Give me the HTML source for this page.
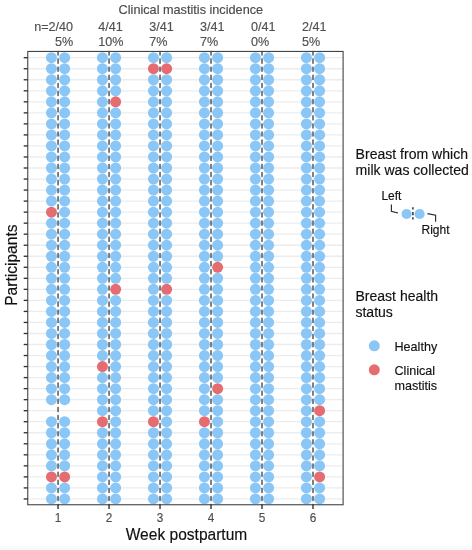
<!DOCTYPE html>
<html><head><meta charset="utf-8"><title>Clinical mastitis incidence</title><style>
html,body{margin:0;padding:0;background:#fff;}
body{width:472px;height:550px;overflow:hidden;}
svg{display:block;font-family:"Liberation Sans",Arial,Helvetica,sans-serif;}
text{stroke-linejoin:round;}
.tick{font-size:11.8px;fill:#4D4D4D;stroke:#4D4D4D;stroke-width:0.15px;}
.axt{font-size:15.55px;fill:#111;stroke:#111;stroke-width:0.15px;}
.ttl{font-size:12.7px;fill:#4a4a4a;stroke:#4a4a4a;stroke-width:0.15px;}
.top{font-size:12.6px;fill:#505050;stroke:#505050;stroke-width:0.15px;}
.lt{font-size:14.05px;fill:#111;stroke:#111;stroke-width:0.15px;}
.lr{font-size:12px;fill:#111;stroke:#111;stroke-width:0.15px;}
.ll{font-size:12.6px;fill:#111;stroke:#111;stroke-width:0.15px;}
</style></head><body>
<svg width="472" height="550" viewBox="0 0 472 550">
<rect x="0" y="546" width="472" height="4" fill="#FAFAFA"/>
<line x1="27.75" y1="57.70" x2="343.1" y2="57.70" stroke="#ECECEC" stroke-width="1.3"/>
<line x1="27.75" y1="68.73" x2="343.1" y2="68.73" stroke="#ECECEC" stroke-width="1.3"/>
<line x1="27.75" y1="79.76" x2="343.1" y2="79.76" stroke="#ECECEC" stroke-width="1.3"/>
<line x1="27.75" y1="90.79" x2="343.1" y2="90.79" stroke="#ECECEC" stroke-width="1.3"/>
<line x1="27.75" y1="101.82" x2="343.1" y2="101.82" stroke="#ECECEC" stroke-width="1.3"/>
<line x1="27.75" y1="112.86" x2="343.1" y2="112.86" stroke="#ECECEC" stroke-width="1.3"/>
<line x1="27.75" y1="123.89" x2="343.1" y2="123.89" stroke="#ECECEC" stroke-width="1.3"/>
<line x1="27.75" y1="134.92" x2="343.1" y2="134.92" stroke="#ECECEC" stroke-width="1.3"/>
<line x1="27.75" y1="145.95" x2="343.1" y2="145.95" stroke="#ECECEC" stroke-width="1.3"/>
<line x1="27.75" y1="156.98" x2="343.1" y2="156.98" stroke="#ECECEC" stroke-width="1.3"/>
<line x1="27.75" y1="168.01" x2="343.1" y2="168.01" stroke="#ECECEC" stroke-width="1.3"/>
<line x1="27.75" y1="179.04" x2="343.1" y2="179.04" stroke="#ECECEC" stroke-width="1.3"/>
<line x1="27.75" y1="190.07" x2="343.1" y2="190.07" stroke="#ECECEC" stroke-width="1.3"/>
<line x1="27.75" y1="201.10" x2="343.1" y2="201.10" stroke="#ECECEC" stroke-width="1.3"/>
<line x1="27.75" y1="212.13" x2="343.1" y2="212.13" stroke="#ECECEC" stroke-width="1.3"/>
<line x1="27.75" y1="223.17" x2="343.1" y2="223.17" stroke="#ECECEC" stroke-width="1.3"/>
<line x1="27.75" y1="234.20" x2="343.1" y2="234.20" stroke="#ECECEC" stroke-width="1.3"/>
<line x1="27.75" y1="245.23" x2="343.1" y2="245.23" stroke="#ECECEC" stroke-width="1.3"/>
<line x1="27.75" y1="256.26" x2="343.1" y2="256.26" stroke="#ECECEC" stroke-width="1.3"/>
<line x1="27.75" y1="267.29" x2="343.1" y2="267.29" stroke="#ECECEC" stroke-width="1.3"/>
<line x1="27.75" y1="278.32" x2="343.1" y2="278.32" stroke="#ECECEC" stroke-width="1.3"/>
<line x1="27.75" y1="289.35" x2="343.1" y2="289.35" stroke="#ECECEC" stroke-width="1.3"/>
<line x1="27.75" y1="300.38" x2="343.1" y2="300.38" stroke="#ECECEC" stroke-width="1.3"/>
<line x1="27.75" y1="311.41" x2="343.1" y2="311.41" stroke="#ECECEC" stroke-width="1.3"/>
<line x1="27.75" y1="322.44" x2="343.1" y2="322.44" stroke="#ECECEC" stroke-width="1.3"/>
<line x1="27.75" y1="333.48" x2="343.1" y2="333.48" stroke="#ECECEC" stroke-width="1.3"/>
<line x1="27.75" y1="344.51" x2="343.1" y2="344.51" stroke="#ECECEC" stroke-width="1.3"/>
<line x1="27.75" y1="355.54" x2="343.1" y2="355.54" stroke="#ECECEC" stroke-width="1.3"/>
<line x1="27.75" y1="366.57" x2="343.1" y2="366.57" stroke="#ECECEC" stroke-width="1.3"/>
<line x1="27.75" y1="377.60" x2="343.1" y2="377.60" stroke="#ECECEC" stroke-width="1.3"/>
<line x1="27.75" y1="388.63" x2="343.1" y2="388.63" stroke="#ECECEC" stroke-width="1.3"/>
<line x1="27.75" y1="399.66" x2="343.1" y2="399.66" stroke="#ECECEC" stroke-width="1.3"/>
<line x1="27.75" y1="410.69" x2="343.1" y2="410.69" stroke="#ECECEC" stroke-width="1.3"/>
<line x1="27.75" y1="421.72" x2="343.1" y2="421.72" stroke="#ECECEC" stroke-width="1.3"/>
<line x1="27.75" y1="432.75" x2="343.1" y2="432.75" stroke="#ECECEC" stroke-width="1.3"/>
<line x1="27.75" y1="443.79" x2="343.1" y2="443.79" stroke="#ECECEC" stroke-width="1.3"/>
<line x1="27.75" y1="454.82" x2="343.1" y2="454.82" stroke="#ECECEC" stroke-width="1.3"/>
<line x1="27.75" y1="465.85" x2="343.1" y2="465.85" stroke="#ECECEC" stroke-width="1.3"/>
<line x1="27.75" y1="476.88" x2="343.1" y2="476.88" stroke="#ECECEC" stroke-width="1.3"/>
<line x1="27.75" y1="487.91" x2="343.1" y2="487.91" stroke="#ECECEC" stroke-width="1.3"/>
<line x1="27.75" y1="498.94" x2="343.1" y2="498.94" stroke="#ECECEC" stroke-width="1.3"/>
<line x1="58.05" y1="51.45" x2="58.05" y2="504.75" stroke="#444" stroke-width="1.35" stroke-linecap="round" stroke-dasharray="4.2 3.9" stroke-dashoffset="0.55"/>
<line x1="109.04" y1="51.45" x2="109.04" y2="504.75" stroke="#444" stroke-width="1.35" stroke-linecap="round" stroke-dasharray="4.2 3.9" stroke-dashoffset="0.55"/>
<line x1="160.03" y1="51.45" x2="160.03" y2="504.75" stroke="#444" stroke-width="1.35" stroke-linecap="round" stroke-dasharray="4.2 3.9" stroke-dashoffset="0.55"/>
<line x1="211.02" y1="51.45" x2="211.02" y2="504.75" stroke="#444" stroke-width="1.35" stroke-linecap="round" stroke-dasharray="4.2 3.9" stroke-dashoffset="0.55"/>
<line x1="262.01" y1="51.45" x2="262.01" y2="504.75" stroke="#444" stroke-width="1.35" stroke-linecap="round" stroke-dasharray="4.2 3.9" stroke-dashoffset="0.55"/>
<line x1="313.00" y1="51.45" x2="313.00" y2="504.75" stroke="#444" stroke-width="1.35" stroke-linecap="round" stroke-dasharray="4.2 3.9" stroke-dashoffset="0.55"/>
<circle cx="51.45" cy="57.70" r="5.5" fill="#8AC6F6"/>
<circle cx="64.65" cy="57.70" r="5.5" fill="#8AC6F6"/>
<circle cx="51.45" cy="68.73" r="5.5" fill="#8AC6F6"/>
<circle cx="64.65" cy="68.73" r="5.5" fill="#8AC6F6"/>
<circle cx="51.45" cy="79.76" r="5.5" fill="#8AC6F6"/>
<circle cx="64.65" cy="79.76" r="5.5" fill="#8AC6F6"/>
<circle cx="51.45" cy="90.79" r="5.5" fill="#8AC6F6"/>
<circle cx="64.65" cy="90.79" r="5.5" fill="#8AC6F6"/>
<circle cx="51.45" cy="101.82" r="5.5" fill="#8AC6F6"/>
<circle cx="64.65" cy="101.82" r="5.5" fill="#8AC6F6"/>
<circle cx="51.45" cy="112.86" r="5.5" fill="#8AC6F6"/>
<circle cx="64.65" cy="112.86" r="5.5" fill="#8AC6F6"/>
<circle cx="51.45" cy="123.89" r="5.5" fill="#8AC6F6"/>
<circle cx="64.65" cy="123.89" r="5.5" fill="#8AC6F6"/>
<circle cx="51.45" cy="134.92" r="5.5" fill="#8AC6F6"/>
<circle cx="64.65" cy="134.92" r="5.5" fill="#8AC6F6"/>
<circle cx="51.45" cy="145.95" r="5.5" fill="#8AC6F6"/>
<circle cx="64.65" cy="145.95" r="5.5" fill="#8AC6F6"/>
<circle cx="51.45" cy="156.98" r="5.5" fill="#8AC6F6"/>
<circle cx="64.65" cy="156.98" r="5.5" fill="#8AC6F6"/>
<circle cx="51.45" cy="168.01" r="5.5" fill="#8AC6F6"/>
<circle cx="64.65" cy="168.01" r="5.5" fill="#8AC6F6"/>
<circle cx="51.45" cy="179.04" r="5.5" fill="#8AC6F6"/>
<circle cx="64.65" cy="179.04" r="5.5" fill="#8AC6F6"/>
<circle cx="51.45" cy="190.07" r="5.5" fill="#8AC6F6"/>
<circle cx="64.65" cy="190.07" r="5.5" fill="#8AC6F6"/>
<circle cx="51.45" cy="201.10" r="5.5" fill="#8AC6F6"/>
<circle cx="64.65" cy="201.10" r="5.5" fill="#8AC6F6"/>
<circle cx="64.65" cy="212.13" r="5.5" fill="#8AC6F6"/>
<circle cx="51.45" cy="223.17" r="5.5" fill="#8AC6F6"/>
<circle cx="64.65" cy="223.17" r="5.5" fill="#8AC6F6"/>
<circle cx="51.45" cy="234.20" r="5.5" fill="#8AC6F6"/>
<circle cx="64.65" cy="234.20" r="5.5" fill="#8AC6F6"/>
<circle cx="51.45" cy="245.23" r="5.5" fill="#8AC6F6"/>
<circle cx="64.65" cy="245.23" r="5.5" fill="#8AC6F6"/>
<circle cx="51.45" cy="256.26" r="5.5" fill="#8AC6F6"/>
<circle cx="64.65" cy="256.26" r="5.5" fill="#8AC6F6"/>
<circle cx="51.45" cy="267.29" r="5.5" fill="#8AC6F6"/>
<circle cx="64.65" cy="267.29" r="5.5" fill="#8AC6F6"/>
<circle cx="51.45" cy="278.32" r="5.5" fill="#8AC6F6"/>
<circle cx="64.65" cy="278.32" r="5.5" fill="#8AC6F6"/>
<circle cx="51.45" cy="289.35" r="5.5" fill="#8AC6F6"/>
<circle cx="64.65" cy="289.35" r="5.5" fill="#8AC6F6"/>
<circle cx="51.45" cy="300.38" r="5.5" fill="#8AC6F6"/>
<circle cx="64.65" cy="300.38" r="5.5" fill="#8AC6F6"/>
<circle cx="51.45" cy="311.41" r="5.5" fill="#8AC6F6"/>
<circle cx="64.65" cy="311.41" r="5.5" fill="#8AC6F6"/>
<circle cx="51.45" cy="322.44" r="5.5" fill="#8AC6F6"/>
<circle cx="64.65" cy="322.44" r="5.5" fill="#8AC6F6"/>
<circle cx="51.45" cy="333.48" r="5.5" fill="#8AC6F6"/>
<circle cx="64.65" cy="333.48" r="5.5" fill="#8AC6F6"/>
<circle cx="51.45" cy="344.51" r="5.5" fill="#8AC6F6"/>
<circle cx="64.65" cy="344.51" r="5.5" fill="#8AC6F6"/>
<circle cx="51.45" cy="355.54" r="5.5" fill="#8AC6F6"/>
<circle cx="64.65" cy="355.54" r="5.5" fill="#8AC6F6"/>
<circle cx="51.45" cy="366.57" r="5.5" fill="#8AC6F6"/>
<circle cx="64.65" cy="366.57" r="5.5" fill="#8AC6F6"/>
<circle cx="51.45" cy="377.60" r="5.5" fill="#8AC6F6"/>
<circle cx="64.65" cy="377.60" r="5.5" fill="#8AC6F6"/>
<circle cx="51.45" cy="388.63" r="5.5" fill="#8AC6F6"/>
<circle cx="64.65" cy="388.63" r="5.5" fill="#8AC6F6"/>
<circle cx="51.45" cy="399.66" r="5.5" fill="#8AC6F6"/>
<circle cx="64.65" cy="399.66" r="5.5" fill="#8AC6F6"/>
<circle cx="51.45" cy="421.72" r="5.5" fill="#8AC6F6"/>
<circle cx="64.65" cy="421.72" r="5.5" fill="#8AC6F6"/>
<circle cx="51.45" cy="432.75" r="5.5" fill="#8AC6F6"/>
<circle cx="64.65" cy="432.75" r="5.5" fill="#8AC6F6"/>
<circle cx="51.45" cy="443.79" r="5.5" fill="#8AC6F6"/>
<circle cx="64.65" cy="443.79" r="5.5" fill="#8AC6F6"/>
<circle cx="51.45" cy="454.82" r="5.5" fill="#8AC6F6"/>
<circle cx="64.65" cy="454.82" r="5.5" fill="#8AC6F6"/>
<circle cx="51.45" cy="465.85" r="5.5" fill="#8AC6F6"/>
<circle cx="64.65" cy="465.85" r="5.5" fill="#8AC6F6"/>
<circle cx="51.45" cy="487.91" r="5.5" fill="#8AC6F6"/>
<circle cx="64.65" cy="487.91" r="5.5" fill="#8AC6F6"/>
<circle cx="51.45" cy="498.94" r="5.5" fill="#8AC6F6"/>
<circle cx="64.65" cy="498.94" r="5.5" fill="#8AC6F6"/>
<circle cx="102.44" cy="57.70" r="5.5" fill="#8AC6F6"/>
<circle cx="115.64" cy="57.70" r="5.5" fill="#8AC6F6"/>
<circle cx="102.44" cy="68.73" r="5.5" fill="#8AC6F6"/>
<circle cx="115.64" cy="68.73" r="5.5" fill="#8AC6F6"/>
<circle cx="102.44" cy="79.76" r="5.5" fill="#8AC6F6"/>
<circle cx="115.64" cy="79.76" r="5.5" fill="#8AC6F6"/>
<circle cx="102.44" cy="90.79" r="5.5" fill="#8AC6F6"/>
<circle cx="115.64" cy="90.79" r="5.5" fill="#8AC6F6"/>
<circle cx="102.44" cy="101.82" r="5.5" fill="#8AC6F6"/>
<circle cx="102.44" cy="112.86" r="5.5" fill="#8AC6F6"/>
<circle cx="115.64" cy="112.86" r="5.5" fill="#8AC6F6"/>
<circle cx="102.44" cy="123.89" r="5.5" fill="#8AC6F6"/>
<circle cx="115.64" cy="123.89" r="5.5" fill="#8AC6F6"/>
<circle cx="102.44" cy="134.92" r="5.5" fill="#8AC6F6"/>
<circle cx="115.64" cy="134.92" r="5.5" fill="#8AC6F6"/>
<circle cx="102.44" cy="145.95" r="5.5" fill="#8AC6F6"/>
<circle cx="115.64" cy="145.95" r="5.5" fill="#8AC6F6"/>
<circle cx="102.44" cy="156.98" r="5.5" fill="#8AC6F6"/>
<circle cx="115.64" cy="156.98" r="5.5" fill="#8AC6F6"/>
<circle cx="102.44" cy="168.01" r="5.5" fill="#8AC6F6"/>
<circle cx="115.64" cy="168.01" r="5.5" fill="#8AC6F6"/>
<circle cx="102.44" cy="179.04" r="5.5" fill="#8AC6F6"/>
<circle cx="115.64" cy="179.04" r="5.5" fill="#8AC6F6"/>
<circle cx="102.44" cy="190.07" r="5.5" fill="#8AC6F6"/>
<circle cx="115.64" cy="190.07" r="5.5" fill="#8AC6F6"/>
<circle cx="102.44" cy="201.10" r="5.5" fill="#8AC6F6"/>
<circle cx="115.64" cy="201.10" r="5.5" fill="#8AC6F6"/>
<circle cx="102.44" cy="212.13" r="5.5" fill="#8AC6F6"/>
<circle cx="115.64" cy="212.13" r="5.5" fill="#8AC6F6"/>
<circle cx="102.44" cy="223.17" r="5.5" fill="#8AC6F6"/>
<circle cx="115.64" cy="223.17" r="5.5" fill="#8AC6F6"/>
<circle cx="102.44" cy="234.20" r="5.5" fill="#8AC6F6"/>
<circle cx="115.64" cy="234.20" r="5.5" fill="#8AC6F6"/>
<circle cx="102.44" cy="245.23" r="5.5" fill="#8AC6F6"/>
<circle cx="115.64" cy="245.23" r="5.5" fill="#8AC6F6"/>
<circle cx="102.44" cy="256.26" r="5.5" fill="#8AC6F6"/>
<circle cx="115.64" cy="256.26" r="5.5" fill="#8AC6F6"/>
<circle cx="102.44" cy="267.29" r="5.5" fill="#8AC6F6"/>
<circle cx="115.64" cy="267.29" r="5.5" fill="#8AC6F6"/>
<circle cx="102.44" cy="278.32" r="5.5" fill="#8AC6F6"/>
<circle cx="115.64" cy="278.32" r="5.5" fill="#8AC6F6"/>
<circle cx="102.44" cy="289.35" r="5.5" fill="#8AC6F6"/>
<circle cx="102.44" cy="300.38" r="5.5" fill="#8AC6F6"/>
<circle cx="115.64" cy="300.38" r="5.5" fill="#8AC6F6"/>
<circle cx="102.44" cy="311.41" r="5.5" fill="#8AC6F6"/>
<circle cx="115.64" cy="311.41" r="5.5" fill="#8AC6F6"/>
<circle cx="102.44" cy="322.44" r="5.5" fill="#8AC6F6"/>
<circle cx="115.64" cy="322.44" r="5.5" fill="#8AC6F6"/>
<circle cx="102.44" cy="333.48" r="5.5" fill="#8AC6F6"/>
<circle cx="115.64" cy="333.48" r="5.5" fill="#8AC6F6"/>
<circle cx="102.44" cy="344.51" r="5.5" fill="#8AC6F6"/>
<circle cx="115.64" cy="344.51" r="5.5" fill="#8AC6F6"/>
<circle cx="102.44" cy="355.54" r="5.5" fill="#8AC6F6"/>
<circle cx="115.64" cy="355.54" r="5.5" fill="#8AC6F6"/>
<circle cx="115.64" cy="366.57" r="5.5" fill="#8AC6F6"/>
<circle cx="102.44" cy="377.60" r="5.5" fill="#8AC6F6"/>
<circle cx="115.64" cy="377.60" r="5.5" fill="#8AC6F6"/>
<circle cx="102.44" cy="388.63" r="5.5" fill="#8AC6F6"/>
<circle cx="115.64" cy="388.63" r="5.5" fill="#8AC6F6"/>
<circle cx="102.44" cy="399.66" r="5.5" fill="#8AC6F6"/>
<circle cx="115.64" cy="399.66" r="5.5" fill="#8AC6F6"/>
<circle cx="102.44" cy="410.69" r="5.5" fill="#8AC6F6"/>
<circle cx="115.64" cy="410.69" r="5.5" fill="#8AC6F6"/>
<circle cx="115.64" cy="421.72" r="5.5" fill="#8AC6F6"/>
<circle cx="102.44" cy="432.75" r="5.5" fill="#8AC6F6"/>
<circle cx="115.64" cy="432.75" r="5.5" fill="#8AC6F6"/>
<circle cx="102.44" cy="443.79" r="5.5" fill="#8AC6F6"/>
<circle cx="115.64" cy="443.79" r="5.5" fill="#8AC6F6"/>
<circle cx="102.44" cy="454.82" r="5.5" fill="#8AC6F6"/>
<circle cx="115.64" cy="454.82" r="5.5" fill="#8AC6F6"/>
<circle cx="102.44" cy="465.85" r="5.5" fill="#8AC6F6"/>
<circle cx="115.64" cy="465.85" r="5.5" fill="#8AC6F6"/>
<circle cx="102.44" cy="476.88" r="5.5" fill="#8AC6F6"/>
<circle cx="115.64" cy="476.88" r="5.5" fill="#8AC6F6"/>
<circle cx="102.44" cy="487.91" r="5.5" fill="#8AC6F6"/>
<circle cx="115.64" cy="487.91" r="5.5" fill="#8AC6F6"/>
<circle cx="102.44" cy="498.94" r="5.5" fill="#8AC6F6"/>
<circle cx="115.64" cy="498.94" r="5.5" fill="#8AC6F6"/>
<circle cx="153.43" cy="57.70" r="5.5" fill="#8AC6F6"/>
<circle cx="166.63" cy="57.70" r="5.5" fill="#8AC6F6"/>
<circle cx="153.43" cy="79.76" r="5.5" fill="#8AC6F6"/>
<circle cx="166.63" cy="79.76" r="5.5" fill="#8AC6F6"/>
<circle cx="153.43" cy="90.79" r="5.5" fill="#8AC6F6"/>
<circle cx="166.63" cy="90.79" r="5.5" fill="#8AC6F6"/>
<circle cx="153.43" cy="101.82" r="5.5" fill="#8AC6F6"/>
<circle cx="166.63" cy="101.82" r="5.5" fill="#8AC6F6"/>
<circle cx="153.43" cy="112.86" r="5.5" fill="#8AC6F6"/>
<circle cx="166.63" cy="112.86" r="5.5" fill="#8AC6F6"/>
<circle cx="153.43" cy="123.89" r="5.5" fill="#8AC6F6"/>
<circle cx="166.63" cy="123.89" r="5.5" fill="#8AC6F6"/>
<circle cx="153.43" cy="134.92" r="5.5" fill="#8AC6F6"/>
<circle cx="166.63" cy="134.92" r="5.5" fill="#8AC6F6"/>
<circle cx="153.43" cy="145.95" r="5.5" fill="#8AC6F6"/>
<circle cx="166.63" cy="145.95" r="5.5" fill="#8AC6F6"/>
<circle cx="153.43" cy="156.98" r="5.5" fill="#8AC6F6"/>
<circle cx="166.63" cy="156.98" r="5.5" fill="#8AC6F6"/>
<circle cx="153.43" cy="168.01" r="5.5" fill="#8AC6F6"/>
<circle cx="166.63" cy="168.01" r="5.5" fill="#8AC6F6"/>
<circle cx="153.43" cy="179.04" r="5.5" fill="#8AC6F6"/>
<circle cx="166.63" cy="179.04" r="5.5" fill="#8AC6F6"/>
<circle cx="153.43" cy="190.07" r="5.5" fill="#8AC6F6"/>
<circle cx="166.63" cy="190.07" r="5.5" fill="#8AC6F6"/>
<circle cx="153.43" cy="201.10" r="5.5" fill="#8AC6F6"/>
<circle cx="166.63" cy="201.10" r="5.5" fill="#8AC6F6"/>
<circle cx="153.43" cy="212.13" r="5.5" fill="#8AC6F6"/>
<circle cx="166.63" cy="212.13" r="5.5" fill="#8AC6F6"/>
<circle cx="153.43" cy="223.17" r="5.5" fill="#8AC6F6"/>
<circle cx="166.63" cy="223.17" r="5.5" fill="#8AC6F6"/>
<circle cx="153.43" cy="234.20" r="5.5" fill="#8AC6F6"/>
<circle cx="166.63" cy="234.20" r="5.5" fill="#8AC6F6"/>
<circle cx="153.43" cy="245.23" r="5.5" fill="#8AC6F6"/>
<circle cx="166.63" cy="245.23" r="5.5" fill="#8AC6F6"/>
<circle cx="153.43" cy="256.26" r="5.5" fill="#8AC6F6"/>
<circle cx="166.63" cy="256.26" r="5.5" fill="#8AC6F6"/>
<circle cx="153.43" cy="267.29" r="5.5" fill="#8AC6F6"/>
<circle cx="166.63" cy="267.29" r="5.5" fill="#8AC6F6"/>
<circle cx="153.43" cy="278.32" r="5.5" fill="#8AC6F6"/>
<circle cx="166.63" cy="278.32" r="5.5" fill="#8AC6F6"/>
<circle cx="153.43" cy="289.35" r="5.5" fill="#8AC6F6"/>
<circle cx="153.43" cy="300.38" r="5.5" fill="#8AC6F6"/>
<circle cx="166.63" cy="300.38" r="5.5" fill="#8AC6F6"/>
<circle cx="153.43" cy="311.41" r="5.5" fill="#8AC6F6"/>
<circle cx="166.63" cy="311.41" r="5.5" fill="#8AC6F6"/>
<circle cx="153.43" cy="322.44" r="5.5" fill="#8AC6F6"/>
<circle cx="166.63" cy="322.44" r="5.5" fill="#8AC6F6"/>
<circle cx="153.43" cy="333.48" r="5.5" fill="#8AC6F6"/>
<circle cx="166.63" cy="333.48" r="5.5" fill="#8AC6F6"/>
<circle cx="153.43" cy="344.51" r="5.5" fill="#8AC6F6"/>
<circle cx="166.63" cy="344.51" r="5.5" fill="#8AC6F6"/>
<circle cx="153.43" cy="355.54" r="5.5" fill="#8AC6F6"/>
<circle cx="166.63" cy="355.54" r="5.5" fill="#8AC6F6"/>
<circle cx="153.43" cy="366.57" r="5.5" fill="#8AC6F6"/>
<circle cx="166.63" cy="366.57" r="5.5" fill="#8AC6F6"/>
<circle cx="153.43" cy="377.60" r="5.5" fill="#8AC6F6"/>
<circle cx="166.63" cy="377.60" r="5.5" fill="#8AC6F6"/>
<circle cx="153.43" cy="388.63" r="5.5" fill="#8AC6F6"/>
<circle cx="166.63" cy="388.63" r="5.5" fill="#8AC6F6"/>
<circle cx="153.43" cy="399.66" r="5.5" fill="#8AC6F6"/>
<circle cx="166.63" cy="399.66" r="5.5" fill="#8AC6F6"/>
<circle cx="153.43" cy="410.69" r="5.5" fill="#8AC6F6"/>
<circle cx="166.63" cy="410.69" r="5.5" fill="#8AC6F6"/>
<circle cx="166.63" cy="421.72" r="5.5" fill="#8AC6F6"/>
<circle cx="153.43" cy="432.75" r="5.5" fill="#8AC6F6"/>
<circle cx="166.63" cy="432.75" r="5.5" fill="#8AC6F6"/>
<circle cx="153.43" cy="443.79" r="5.5" fill="#8AC6F6"/>
<circle cx="166.63" cy="443.79" r="5.5" fill="#8AC6F6"/>
<circle cx="153.43" cy="454.82" r="5.5" fill="#8AC6F6"/>
<circle cx="166.63" cy="454.82" r="5.5" fill="#8AC6F6"/>
<circle cx="153.43" cy="465.85" r="5.5" fill="#8AC6F6"/>
<circle cx="166.63" cy="465.85" r="5.5" fill="#8AC6F6"/>
<circle cx="153.43" cy="476.88" r="5.5" fill="#8AC6F6"/>
<circle cx="166.63" cy="476.88" r="5.5" fill="#8AC6F6"/>
<circle cx="153.43" cy="487.91" r="5.5" fill="#8AC6F6"/>
<circle cx="166.63" cy="487.91" r="5.5" fill="#8AC6F6"/>
<circle cx="153.43" cy="498.94" r="5.5" fill="#8AC6F6"/>
<circle cx="166.63" cy="498.94" r="5.5" fill="#8AC6F6"/>
<circle cx="204.42" cy="57.70" r="5.5" fill="#8AC6F6"/>
<circle cx="217.62" cy="57.70" r="5.5" fill="#8AC6F6"/>
<circle cx="204.42" cy="68.73" r="5.5" fill="#8AC6F6"/>
<circle cx="217.62" cy="68.73" r="5.5" fill="#8AC6F6"/>
<circle cx="204.42" cy="79.76" r="5.5" fill="#8AC6F6"/>
<circle cx="217.62" cy="79.76" r="5.5" fill="#8AC6F6"/>
<circle cx="204.42" cy="90.79" r="5.5" fill="#8AC6F6"/>
<circle cx="217.62" cy="90.79" r="5.5" fill="#8AC6F6"/>
<circle cx="204.42" cy="101.82" r="5.5" fill="#8AC6F6"/>
<circle cx="217.62" cy="101.82" r="5.5" fill="#8AC6F6"/>
<circle cx="204.42" cy="112.86" r="5.5" fill="#8AC6F6"/>
<circle cx="217.62" cy="112.86" r="5.5" fill="#8AC6F6"/>
<circle cx="204.42" cy="123.89" r="5.5" fill="#8AC6F6"/>
<circle cx="217.62" cy="123.89" r="5.5" fill="#8AC6F6"/>
<circle cx="204.42" cy="134.92" r="5.5" fill="#8AC6F6"/>
<circle cx="217.62" cy="134.92" r="5.5" fill="#8AC6F6"/>
<circle cx="204.42" cy="145.95" r="5.5" fill="#8AC6F6"/>
<circle cx="217.62" cy="145.95" r="5.5" fill="#8AC6F6"/>
<circle cx="204.42" cy="156.98" r="5.5" fill="#8AC6F6"/>
<circle cx="217.62" cy="156.98" r="5.5" fill="#8AC6F6"/>
<circle cx="204.42" cy="168.01" r="5.5" fill="#8AC6F6"/>
<circle cx="217.62" cy="168.01" r="5.5" fill="#8AC6F6"/>
<circle cx="204.42" cy="179.04" r="5.5" fill="#8AC6F6"/>
<circle cx="217.62" cy="179.04" r="5.5" fill="#8AC6F6"/>
<circle cx="204.42" cy="190.07" r="5.5" fill="#8AC6F6"/>
<circle cx="217.62" cy="190.07" r="5.5" fill="#8AC6F6"/>
<circle cx="204.42" cy="201.10" r="5.5" fill="#8AC6F6"/>
<circle cx="217.62" cy="201.10" r="5.5" fill="#8AC6F6"/>
<circle cx="204.42" cy="212.13" r="5.5" fill="#8AC6F6"/>
<circle cx="217.62" cy="212.13" r="5.5" fill="#8AC6F6"/>
<circle cx="204.42" cy="223.17" r="5.5" fill="#8AC6F6"/>
<circle cx="217.62" cy="223.17" r="5.5" fill="#8AC6F6"/>
<circle cx="204.42" cy="234.20" r="5.5" fill="#8AC6F6"/>
<circle cx="217.62" cy="234.20" r="5.5" fill="#8AC6F6"/>
<circle cx="204.42" cy="245.23" r="5.5" fill="#8AC6F6"/>
<circle cx="217.62" cy="245.23" r="5.5" fill="#8AC6F6"/>
<circle cx="204.42" cy="256.26" r="5.5" fill="#8AC6F6"/>
<circle cx="217.62" cy="256.26" r="5.5" fill="#8AC6F6"/>
<circle cx="204.42" cy="267.29" r="5.5" fill="#8AC6F6"/>
<circle cx="204.42" cy="278.32" r="5.5" fill="#8AC6F6"/>
<circle cx="217.62" cy="278.32" r="5.5" fill="#8AC6F6"/>
<circle cx="204.42" cy="289.35" r="5.5" fill="#8AC6F6"/>
<circle cx="217.62" cy="289.35" r="5.5" fill="#8AC6F6"/>
<circle cx="204.42" cy="300.38" r="5.5" fill="#8AC6F6"/>
<circle cx="217.62" cy="300.38" r="5.5" fill="#8AC6F6"/>
<circle cx="204.42" cy="311.41" r="5.5" fill="#8AC6F6"/>
<circle cx="217.62" cy="311.41" r="5.5" fill="#8AC6F6"/>
<circle cx="204.42" cy="322.44" r="5.5" fill="#8AC6F6"/>
<circle cx="217.62" cy="322.44" r="5.5" fill="#8AC6F6"/>
<circle cx="204.42" cy="333.48" r="5.5" fill="#8AC6F6"/>
<circle cx="217.62" cy="333.48" r="5.5" fill="#8AC6F6"/>
<circle cx="204.42" cy="344.51" r="5.5" fill="#8AC6F6"/>
<circle cx="217.62" cy="344.51" r="5.5" fill="#8AC6F6"/>
<circle cx="204.42" cy="355.54" r="5.5" fill="#8AC6F6"/>
<circle cx="217.62" cy="355.54" r="5.5" fill="#8AC6F6"/>
<circle cx="204.42" cy="366.57" r="5.5" fill="#8AC6F6"/>
<circle cx="217.62" cy="366.57" r="5.5" fill="#8AC6F6"/>
<circle cx="204.42" cy="377.60" r="5.5" fill="#8AC6F6"/>
<circle cx="217.62" cy="377.60" r="5.5" fill="#8AC6F6"/>
<circle cx="204.42" cy="388.63" r="5.5" fill="#8AC6F6"/>
<circle cx="204.42" cy="399.66" r="5.5" fill="#8AC6F6"/>
<circle cx="217.62" cy="399.66" r="5.5" fill="#8AC6F6"/>
<circle cx="204.42" cy="410.69" r="5.5" fill="#8AC6F6"/>
<circle cx="217.62" cy="410.69" r="5.5" fill="#8AC6F6"/>
<circle cx="217.62" cy="421.72" r="5.5" fill="#8AC6F6"/>
<circle cx="204.42" cy="432.75" r="5.5" fill="#8AC6F6"/>
<circle cx="217.62" cy="432.75" r="5.5" fill="#8AC6F6"/>
<circle cx="204.42" cy="443.79" r="5.5" fill="#8AC6F6"/>
<circle cx="217.62" cy="443.79" r="5.5" fill="#8AC6F6"/>
<circle cx="204.42" cy="454.82" r="5.5" fill="#8AC6F6"/>
<circle cx="217.62" cy="454.82" r="5.5" fill="#8AC6F6"/>
<circle cx="204.42" cy="465.85" r="5.5" fill="#8AC6F6"/>
<circle cx="217.62" cy="465.85" r="5.5" fill="#8AC6F6"/>
<circle cx="204.42" cy="476.88" r="5.5" fill="#8AC6F6"/>
<circle cx="217.62" cy="476.88" r="5.5" fill="#8AC6F6"/>
<circle cx="204.42" cy="487.91" r="5.5" fill="#8AC6F6"/>
<circle cx="217.62" cy="487.91" r="5.5" fill="#8AC6F6"/>
<circle cx="204.42" cy="498.94" r="5.5" fill="#8AC6F6"/>
<circle cx="217.62" cy="498.94" r="5.5" fill="#8AC6F6"/>
<circle cx="255.41" cy="57.70" r="5.5" fill="#8AC6F6"/>
<circle cx="268.61" cy="57.70" r="5.5" fill="#8AC6F6"/>
<circle cx="255.41" cy="68.73" r="5.5" fill="#8AC6F6"/>
<circle cx="268.61" cy="68.73" r="5.5" fill="#8AC6F6"/>
<circle cx="255.41" cy="79.76" r="5.5" fill="#8AC6F6"/>
<circle cx="268.61" cy="79.76" r="5.5" fill="#8AC6F6"/>
<circle cx="255.41" cy="90.79" r="5.5" fill="#8AC6F6"/>
<circle cx="268.61" cy="90.79" r="5.5" fill="#8AC6F6"/>
<circle cx="255.41" cy="101.82" r="5.5" fill="#8AC6F6"/>
<circle cx="268.61" cy="101.82" r="5.5" fill="#8AC6F6"/>
<circle cx="255.41" cy="112.86" r="5.5" fill="#8AC6F6"/>
<circle cx="268.61" cy="112.86" r="5.5" fill="#8AC6F6"/>
<circle cx="255.41" cy="123.89" r="5.5" fill="#8AC6F6"/>
<circle cx="268.61" cy="123.89" r="5.5" fill="#8AC6F6"/>
<circle cx="255.41" cy="134.92" r="5.5" fill="#8AC6F6"/>
<circle cx="268.61" cy="134.92" r="5.5" fill="#8AC6F6"/>
<circle cx="255.41" cy="145.95" r="5.5" fill="#8AC6F6"/>
<circle cx="268.61" cy="145.95" r="5.5" fill="#8AC6F6"/>
<circle cx="255.41" cy="156.98" r="5.5" fill="#8AC6F6"/>
<circle cx="268.61" cy="156.98" r="5.5" fill="#8AC6F6"/>
<circle cx="255.41" cy="168.01" r="5.5" fill="#8AC6F6"/>
<circle cx="268.61" cy="168.01" r="5.5" fill="#8AC6F6"/>
<circle cx="255.41" cy="179.04" r="5.5" fill="#8AC6F6"/>
<circle cx="268.61" cy="179.04" r="5.5" fill="#8AC6F6"/>
<circle cx="255.41" cy="190.07" r="5.5" fill="#8AC6F6"/>
<circle cx="268.61" cy="190.07" r="5.5" fill="#8AC6F6"/>
<circle cx="255.41" cy="201.10" r="5.5" fill="#8AC6F6"/>
<circle cx="268.61" cy="201.10" r="5.5" fill="#8AC6F6"/>
<circle cx="255.41" cy="212.13" r="5.5" fill="#8AC6F6"/>
<circle cx="268.61" cy="212.13" r="5.5" fill="#8AC6F6"/>
<circle cx="255.41" cy="223.17" r="5.5" fill="#8AC6F6"/>
<circle cx="268.61" cy="223.17" r="5.5" fill="#8AC6F6"/>
<circle cx="255.41" cy="234.20" r="5.5" fill="#8AC6F6"/>
<circle cx="268.61" cy="234.20" r="5.5" fill="#8AC6F6"/>
<circle cx="255.41" cy="245.23" r="5.5" fill="#8AC6F6"/>
<circle cx="268.61" cy="245.23" r="5.5" fill="#8AC6F6"/>
<circle cx="255.41" cy="256.26" r="5.5" fill="#8AC6F6"/>
<circle cx="268.61" cy="256.26" r="5.5" fill="#8AC6F6"/>
<circle cx="255.41" cy="267.29" r="5.5" fill="#8AC6F6"/>
<circle cx="268.61" cy="267.29" r="5.5" fill="#8AC6F6"/>
<circle cx="255.41" cy="278.32" r="5.5" fill="#8AC6F6"/>
<circle cx="268.61" cy="278.32" r="5.5" fill="#8AC6F6"/>
<circle cx="255.41" cy="289.35" r="5.5" fill="#8AC6F6"/>
<circle cx="268.61" cy="289.35" r="5.5" fill="#8AC6F6"/>
<circle cx="255.41" cy="300.38" r="5.5" fill="#8AC6F6"/>
<circle cx="268.61" cy="300.38" r="5.5" fill="#8AC6F6"/>
<circle cx="255.41" cy="311.41" r="5.5" fill="#8AC6F6"/>
<circle cx="268.61" cy="311.41" r="5.5" fill="#8AC6F6"/>
<circle cx="255.41" cy="322.44" r="5.5" fill="#8AC6F6"/>
<circle cx="268.61" cy="322.44" r="5.5" fill="#8AC6F6"/>
<circle cx="255.41" cy="333.48" r="5.5" fill="#8AC6F6"/>
<circle cx="268.61" cy="333.48" r="5.5" fill="#8AC6F6"/>
<circle cx="255.41" cy="344.51" r="5.5" fill="#8AC6F6"/>
<circle cx="268.61" cy="344.51" r="5.5" fill="#8AC6F6"/>
<circle cx="255.41" cy="355.54" r="5.5" fill="#8AC6F6"/>
<circle cx="268.61" cy="355.54" r="5.5" fill="#8AC6F6"/>
<circle cx="255.41" cy="366.57" r="5.5" fill="#8AC6F6"/>
<circle cx="268.61" cy="366.57" r="5.5" fill="#8AC6F6"/>
<circle cx="255.41" cy="377.60" r="5.5" fill="#8AC6F6"/>
<circle cx="268.61" cy="377.60" r="5.5" fill="#8AC6F6"/>
<circle cx="255.41" cy="388.63" r="5.5" fill="#8AC6F6"/>
<circle cx="268.61" cy="388.63" r="5.5" fill="#8AC6F6"/>
<circle cx="255.41" cy="399.66" r="5.5" fill="#8AC6F6"/>
<circle cx="268.61" cy="399.66" r="5.5" fill="#8AC6F6"/>
<circle cx="255.41" cy="410.69" r="5.5" fill="#8AC6F6"/>
<circle cx="268.61" cy="410.69" r="5.5" fill="#8AC6F6"/>
<circle cx="255.41" cy="421.72" r="5.5" fill="#8AC6F6"/>
<circle cx="268.61" cy="421.72" r="5.5" fill="#8AC6F6"/>
<circle cx="255.41" cy="432.75" r="5.5" fill="#8AC6F6"/>
<circle cx="268.61" cy="432.75" r="5.5" fill="#8AC6F6"/>
<circle cx="255.41" cy="443.79" r="5.5" fill="#8AC6F6"/>
<circle cx="268.61" cy="443.79" r="5.5" fill="#8AC6F6"/>
<circle cx="255.41" cy="454.82" r="5.5" fill="#8AC6F6"/>
<circle cx="268.61" cy="454.82" r="5.5" fill="#8AC6F6"/>
<circle cx="255.41" cy="465.85" r="5.5" fill="#8AC6F6"/>
<circle cx="268.61" cy="465.85" r="5.5" fill="#8AC6F6"/>
<circle cx="255.41" cy="476.88" r="5.5" fill="#8AC6F6"/>
<circle cx="268.61" cy="476.88" r="5.5" fill="#8AC6F6"/>
<circle cx="255.41" cy="487.91" r="5.5" fill="#8AC6F6"/>
<circle cx="268.61" cy="487.91" r="5.5" fill="#8AC6F6"/>
<circle cx="255.41" cy="498.94" r="5.5" fill="#8AC6F6"/>
<circle cx="268.61" cy="498.94" r="5.5" fill="#8AC6F6"/>
<circle cx="306.40" cy="57.70" r="5.5" fill="#8AC6F6"/>
<circle cx="319.60" cy="57.70" r="5.5" fill="#8AC6F6"/>
<circle cx="306.40" cy="68.73" r="5.5" fill="#8AC6F6"/>
<circle cx="319.60" cy="68.73" r="5.5" fill="#8AC6F6"/>
<circle cx="306.40" cy="79.76" r="5.5" fill="#8AC6F6"/>
<circle cx="319.60" cy="79.76" r="5.5" fill="#8AC6F6"/>
<circle cx="306.40" cy="90.79" r="5.5" fill="#8AC6F6"/>
<circle cx="319.60" cy="90.79" r="5.5" fill="#8AC6F6"/>
<circle cx="306.40" cy="101.82" r="5.5" fill="#8AC6F6"/>
<circle cx="319.60" cy="101.82" r="5.5" fill="#8AC6F6"/>
<circle cx="306.40" cy="112.86" r="5.5" fill="#8AC6F6"/>
<circle cx="319.60" cy="112.86" r="5.5" fill="#8AC6F6"/>
<circle cx="306.40" cy="123.89" r="5.5" fill="#8AC6F6"/>
<circle cx="319.60" cy="123.89" r="5.5" fill="#8AC6F6"/>
<circle cx="306.40" cy="134.92" r="5.5" fill="#8AC6F6"/>
<circle cx="319.60" cy="134.92" r="5.5" fill="#8AC6F6"/>
<circle cx="306.40" cy="145.95" r="5.5" fill="#8AC6F6"/>
<circle cx="319.60" cy="145.95" r="5.5" fill="#8AC6F6"/>
<circle cx="306.40" cy="156.98" r="5.5" fill="#8AC6F6"/>
<circle cx="319.60" cy="156.98" r="5.5" fill="#8AC6F6"/>
<circle cx="306.40" cy="168.01" r="5.5" fill="#8AC6F6"/>
<circle cx="319.60" cy="168.01" r="5.5" fill="#8AC6F6"/>
<circle cx="306.40" cy="179.04" r="5.5" fill="#8AC6F6"/>
<circle cx="319.60" cy="179.04" r="5.5" fill="#8AC6F6"/>
<circle cx="306.40" cy="190.07" r="5.5" fill="#8AC6F6"/>
<circle cx="319.60" cy="190.07" r="5.5" fill="#8AC6F6"/>
<circle cx="306.40" cy="201.10" r="5.5" fill="#8AC6F6"/>
<circle cx="319.60" cy="201.10" r="5.5" fill="#8AC6F6"/>
<circle cx="306.40" cy="212.13" r="5.5" fill="#8AC6F6"/>
<circle cx="319.60" cy="212.13" r="5.5" fill="#8AC6F6"/>
<circle cx="306.40" cy="223.17" r="5.5" fill="#8AC6F6"/>
<circle cx="319.60" cy="223.17" r="5.5" fill="#8AC6F6"/>
<circle cx="306.40" cy="234.20" r="5.5" fill="#8AC6F6"/>
<circle cx="319.60" cy="234.20" r="5.5" fill="#8AC6F6"/>
<circle cx="306.40" cy="245.23" r="5.5" fill="#8AC6F6"/>
<circle cx="319.60" cy="245.23" r="5.5" fill="#8AC6F6"/>
<circle cx="306.40" cy="256.26" r="5.5" fill="#8AC6F6"/>
<circle cx="319.60" cy="256.26" r="5.5" fill="#8AC6F6"/>
<circle cx="306.40" cy="267.29" r="5.5" fill="#8AC6F6"/>
<circle cx="319.60" cy="267.29" r="5.5" fill="#8AC6F6"/>
<circle cx="306.40" cy="278.32" r="5.5" fill="#8AC6F6"/>
<circle cx="319.60" cy="278.32" r="5.5" fill="#8AC6F6"/>
<circle cx="306.40" cy="289.35" r="5.5" fill="#8AC6F6"/>
<circle cx="319.60" cy="289.35" r="5.5" fill="#8AC6F6"/>
<circle cx="306.40" cy="300.38" r="5.5" fill="#8AC6F6"/>
<circle cx="319.60" cy="300.38" r="5.5" fill="#8AC6F6"/>
<circle cx="306.40" cy="311.41" r="5.5" fill="#8AC6F6"/>
<circle cx="319.60" cy="311.41" r="5.5" fill="#8AC6F6"/>
<circle cx="306.40" cy="322.44" r="5.5" fill="#8AC6F6"/>
<circle cx="319.60" cy="322.44" r="5.5" fill="#8AC6F6"/>
<circle cx="306.40" cy="333.48" r="5.5" fill="#8AC6F6"/>
<circle cx="319.60" cy="333.48" r="5.5" fill="#8AC6F6"/>
<circle cx="306.40" cy="344.51" r="5.5" fill="#8AC6F6"/>
<circle cx="319.60" cy="344.51" r="5.5" fill="#8AC6F6"/>
<circle cx="306.40" cy="355.54" r="5.5" fill="#8AC6F6"/>
<circle cx="319.60" cy="355.54" r="5.5" fill="#8AC6F6"/>
<circle cx="306.40" cy="366.57" r="5.5" fill="#8AC6F6"/>
<circle cx="319.60" cy="366.57" r="5.5" fill="#8AC6F6"/>
<circle cx="306.40" cy="377.60" r="5.5" fill="#8AC6F6"/>
<circle cx="319.60" cy="377.60" r="5.5" fill="#8AC6F6"/>
<circle cx="306.40" cy="388.63" r="5.5" fill="#8AC6F6"/>
<circle cx="319.60" cy="388.63" r="5.5" fill="#8AC6F6"/>
<circle cx="306.40" cy="399.66" r="5.5" fill="#8AC6F6"/>
<circle cx="319.60" cy="399.66" r="5.5" fill="#8AC6F6"/>
<circle cx="306.40" cy="410.69" r="5.5" fill="#8AC6F6"/>
<circle cx="306.40" cy="421.72" r="5.5" fill="#8AC6F6"/>
<circle cx="319.60" cy="421.72" r="5.5" fill="#8AC6F6"/>
<circle cx="306.40" cy="432.75" r="5.5" fill="#8AC6F6"/>
<circle cx="319.60" cy="432.75" r="5.5" fill="#8AC6F6"/>
<circle cx="306.40" cy="443.79" r="5.5" fill="#8AC6F6"/>
<circle cx="319.60" cy="443.79" r="5.5" fill="#8AC6F6"/>
<circle cx="306.40" cy="454.82" r="5.5" fill="#8AC6F6"/>
<circle cx="319.60" cy="454.82" r="5.5" fill="#8AC6F6"/>
<circle cx="306.40" cy="465.85" r="5.5" fill="#8AC6F6"/>
<circle cx="319.60" cy="465.85" r="5.5" fill="#8AC6F6"/>
<circle cx="306.40" cy="476.88" r="5.5" fill="#8AC6F6"/>
<circle cx="306.40" cy="487.91" r="5.5" fill="#8AC6F6"/>
<circle cx="319.60" cy="487.91" r="5.5" fill="#8AC6F6"/>
<circle cx="306.40" cy="498.94" r="5.5" fill="#8AC6F6"/>
<circle cx="319.60" cy="498.94" r="5.5" fill="#8AC6F6"/>
<circle cx="51.45" cy="212.13" r="5.5" fill="#E56C70"/>
<circle cx="51.45" cy="476.88" r="5.5" fill="#E56C70"/>
<circle cx="64.65" cy="476.88" r="5.5" fill="#E56C70"/>
<circle cx="115.64" cy="101.82" r="5.5" fill="#E56C70"/>
<circle cx="115.64" cy="289.35" r="5.5" fill="#E56C70"/>
<circle cx="102.44" cy="366.57" r="5.5" fill="#E56C70"/>
<circle cx="102.44" cy="421.72" r="5.5" fill="#E56C70"/>
<circle cx="153.43" cy="68.73" r="5.5" fill="#E56C70"/>
<circle cx="166.63" cy="68.73" r="5.5" fill="#E56C70"/>
<circle cx="166.63" cy="289.35" r="5.5" fill="#E56C70"/>
<circle cx="153.43" cy="421.72" r="5.5" fill="#E56C70"/>
<circle cx="217.62" cy="267.29" r="5.5" fill="#E56C70"/>
<circle cx="217.62" cy="388.63" r="5.5" fill="#E56C70"/>
<circle cx="204.42" cy="421.72" r="5.5" fill="#E56C70"/>
<circle cx="319.60" cy="410.69" r="5.5" fill="#E56C70"/>
<circle cx="319.60" cy="476.88" r="5.5" fill="#E56C70"/>
<rect x="27.75" y="51.45" width="315.35" height="453.30" fill="none" stroke="#444444" stroke-width="1.1"/>
<line x1="23.7" y1="57.70" x2="27.75" y2="57.70" stroke="#333333" stroke-width="1.35"/>
<line x1="23.7" y1="68.73" x2="27.75" y2="68.73" stroke="#333333" stroke-width="1.35"/>
<line x1="23.7" y1="79.76" x2="27.75" y2="79.76" stroke="#333333" stroke-width="1.35"/>
<line x1="23.7" y1="90.79" x2="27.75" y2="90.79" stroke="#333333" stroke-width="1.35"/>
<line x1="23.7" y1="101.82" x2="27.75" y2="101.82" stroke="#333333" stroke-width="1.35"/>
<line x1="23.7" y1="112.86" x2="27.75" y2="112.86" stroke="#333333" stroke-width="1.35"/>
<line x1="23.7" y1="123.89" x2="27.75" y2="123.89" stroke="#333333" stroke-width="1.35"/>
<line x1="23.7" y1="134.92" x2="27.75" y2="134.92" stroke="#333333" stroke-width="1.35"/>
<line x1="23.7" y1="145.95" x2="27.75" y2="145.95" stroke="#333333" stroke-width="1.35"/>
<line x1="23.7" y1="156.98" x2="27.75" y2="156.98" stroke="#333333" stroke-width="1.35"/>
<line x1="23.7" y1="168.01" x2="27.75" y2="168.01" stroke="#333333" stroke-width="1.35"/>
<line x1="23.7" y1="179.04" x2="27.75" y2="179.04" stroke="#333333" stroke-width="1.35"/>
<line x1="23.7" y1="190.07" x2="27.75" y2="190.07" stroke="#333333" stroke-width="1.35"/>
<line x1="23.7" y1="201.10" x2="27.75" y2="201.10" stroke="#333333" stroke-width="1.35"/>
<line x1="23.7" y1="212.13" x2="27.75" y2="212.13" stroke="#333333" stroke-width="1.35"/>
<line x1="23.7" y1="223.17" x2="27.75" y2="223.17" stroke="#333333" stroke-width="1.35"/>
<line x1="23.7" y1="234.20" x2="27.75" y2="234.20" stroke="#333333" stroke-width="1.35"/>
<line x1="23.7" y1="245.23" x2="27.75" y2="245.23" stroke="#333333" stroke-width="1.35"/>
<line x1="23.7" y1="256.26" x2="27.75" y2="256.26" stroke="#333333" stroke-width="1.35"/>
<line x1="23.7" y1="267.29" x2="27.75" y2="267.29" stroke="#333333" stroke-width="1.35"/>
<line x1="23.7" y1="278.32" x2="27.75" y2="278.32" stroke="#333333" stroke-width="1.35"/>
<line x1="23.7" y1="289.35" x2="27.75" y2="289.35" stroke="#333333" stroke-width="1.35"/>
<line x1="23.7" y1="300.38" x2="27.75" y2="300.38" stroke="#333333" stroke-width="1.35"/>
<line x1="23.7" y1="311.41" x2="27.75" y2="311.41" stroke="#333333" stroke-width="1.35"/>
<line x1="23.7" y1="322.44" x2="27.75" y2="322.44" stroke="#333333" stroke-width="1.35"/>
<line x1="23.7" y1="333.48" x2="27.75" y2="333.48" stroke="#333333" stroke-width="1.35"/>
<line x1="23.7" y1="344.51" x2="27.75" y2="344.51" stroke="#333333" stroke-width="1.35"/>
<line x1="23.7" y1="355.54" x2="27.75" y2="355.54" stroke="#333333" stroke-width="1.35"/>
<line x1="23.7" y1="366.57" x2="27.75" y2="366.57" stroke="#333333" stroke-width="1.35"/>
<line x1="23.7" y1="377.60" x2="27.75" y2="377.60" stroke="#333333" stroke-width="1.35"/>
<line x1="23.7" y1="388.63" x2="27.75" y2="388.63" stroke="#333333" stroke-width="1.35"/>
<line x1="23.7" y1="399.66" x2="27.75" y2="399.66" stroke="#333333" stroke-width="1.35"/>
<line x1="23.7" y1="410.69" x2="27.75" y2="410.69" stroke="#333333" stroke-width="1.35"/>
<line x1="23.7" y1="421.72" x2="27.75" y2="421.72" stroke="#333333" stroke-width="1.35"/>
<line x1="23.7" y1="432.75" x2="27.75" y2="432.75" stroke="#333333" stroke-width="1.35"/>
<line x1="23.7" y1="443.79" x2="27.75" y2="443.79" stroke="#333333" stroke-width="1.35"/>
<line x1="23.7" y1="454.82" x2="27.75" y2="454.82" stroke="#333333" stroke-width="1.35"/>
<line x1="23.7" y1="465.85" x2="27.75" y2="465.85" stroke="#333333" stroke-width="1.35"/>
<line x1="23.7" y1="476.88" x2="27.75" y2="476.88" stroke="#333333" stroke-width="1.35"/>
<line x1="23.7" y1="487.91" x2="27.75" y2="487.91" stroke="#333333" stroke-width="1.35"/>
<line x1="23.7" y1="498.94" x2="27.75" y2="498.94" stroke="#333333" stroke-width="1.35"/>
<line x1="58.05" y1="504.75" x2="58.05" y2="508.9" stroke="#333333" stroke-width="1.4"/>
<line x1="109.04" y1="504.75" x2="109.04" y2="508.9" stroke="#333333" stroke-width="1.4"/>
<line x1="160.03" y1="504.75" x2="160.03" y2="508.9" stroke="#333333" stroke-width="1.4"/>
<line x1="211.02" y1="504.75" x2="211.02" y2="508.9" stroke="#333333" stroke-width="1.4"/>
<line x1="262.01" y1="504.75" x2="262.01" y2="508.9" stroke="#333333" stroke-width="1.4"/>
<line x1="313.00" y1="504.75" x2="313.00" y2="508.9" stroke="#333333" stroke-width="1.4"/>
<text transform="translate(58.05 521.9) scale(1 1.04)" class="tick" text-anchor="middle">1</text>
<text transform="translate(109.04 521.9) scale(1 1.04)" class="tick" text-anchor="middle">2</text>
<text transform="translate(160.03 521.9) scale(1 1.04)" class="tick" text-anchor="middle">3</text>
<text transform="translate(211.02 521.9) scale(1 1.04)" class="tick" text-anchor="middle">4</text>
<text transform="translate(262.01 521.9) scale(1 1.04)" class="tick" text-anchor="middle">5</text>
<text transform="translate(313.00 521.9) scale(1 1.04)" class="tick" text-anchor="middle">6</text>
<text transform="translate(186.5 539.6) scale(1 1.04)" class="axt" text-anchor="middle">Week postpartum</text>
<text transform="translate(17.0 265.15) rotate(-90) scale(1 1.04)" class="axt" text-anchor="middle">Participants</text>
<text transform="translate(118.6 13.7) scale(1 1.04)" class="ttl">Clinical mastitis incidence</text>
<text transform="translate(73.1 30.6) scale(1 1.04)" class="top" text-anchor="end">n=2/40</text>
<text transform="translate(73.1 45.7) scale(1 1.04)" class="top" text-anchor="end">5%</text>
<text transform="translate(98.14 30.6) scale(1 1.04)" class="top">4/41</text>
<text transform="translate(98.14 45.7) scale(1 1.04)" class="top">10%</text>
<text transform="translate(149.13 30.6) scale(1 1.04)" class="top">3/41</text>
<text transform="translate(149.13 45.7) scale(1 1.04)" class="top">7%</text>
<text transform="translate(200.12 30.6) scale(1 1.04)" class="top">3/41</text>
<text transform="translate(200.12 45.7) scale(1 1.04)" class="top">7%</text>
<text transform="translate(251.11 30.6) scale(1 1.04)" class="top">0/41</text>
<text transform="translate(251.11 45.7) scale(1 1.04)" class="top">0%</text>
<text transform="translate(302.10 30.6) scale(1 1.04)" class="top">2/41</text>
<text transform="translate(302.10 45.7) scale(1 1.04)" class="top">5%</text>
<text transform="translate(355.6 159.2) scale(1 1.04)" class="lt">Breast from which</text>
<text transform="translate(355.6 175.4) scale(1 1.04)" class="lt">milk was collected</text>
<text transform="translate(381.4 199.8) scale(1 1.04)" class="lr">Left</text>
<text transform="translate(421.5 234.4) scale(1 1.04)" class="lr">Right</text>
<path d="M391.4 204.6 V211.3 L398 213" fill="none" stroke="#2a2a2a" stroke-width="1.15"/>
<path d="M427.4 213.6 L435.6 215.2 V221.8" fill="none" stroke="#2a2a2a" stroke-width="1.15"/>
<circle cx="406.6" cy="214.0" r="5.1" fill="#8AC6F6"/>
<circle cx="419.6" cy="214.0" r="5.1" fill="#8AC6F6"/>
<path d="M412.9 207.3V209.4M412.9 212.1V215.2M412.9 217.2V219.4" stroke="#333333" stroke-width="1.5"/>
<text transform="translate(355.4 300.7) scale(1 1.04)" class="lt">Breast health</text>
<text transform="translate(355.4 317.0) scale(1 1.04)" class="lt">status</text>
<circle cx="374.3" cy="345.8" r="5.5" fill="#8AC6F6"/>
<circle cx="374.3" cy="369.8" r="5.5" fill="#E56C70"/>
<text transform="translate(394.5 350.6) scale(1 1.04)" class="ll">Healthy</text>
<text transform="translate(394.5 374.6) scale(1 1.04)" class="ll">Clinical</text>
<text transform="translate(394.5 389.7) scale(1 1.04)" class="ll">mastitis</text>
</svg>
</body></html>
